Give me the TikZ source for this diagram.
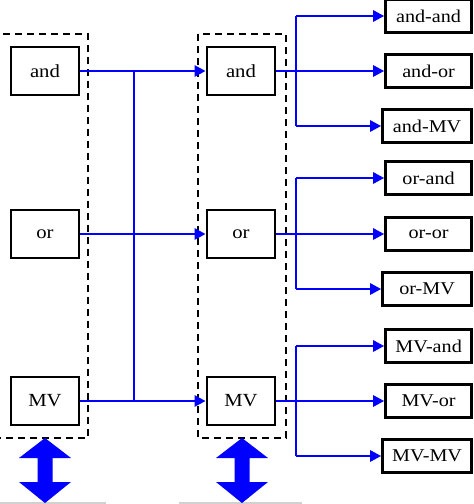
\documentclass[tikz,border=0pt]{standalone}
\usepackage{fontspec}
\setmainfont{Liberation Serif}[FakeStretch=1.12]
\usetikzlibrary{arrows.meta}
\definecolor{pblue}{RGB}{0,0,255}
\begin{document}
\begin{tikzpicture}[x=1pt,y=-1pt,
  box/.style={draw=black,line width=2.8pt,fill=white,minimum width=68pt,minimum height=48pt,inner sep=0pt,font=\fontsize{18.5}{20}\selectfont},
  rbox/.style={draw=black,line width=2.8pt,fill=white,minimum width=86pt,minimum height=33pt,inner sep=0pt,anchor=east,font=\fontsize{18}{20}\selectfont},
  group/.style={draw=black,line width=1.7pt,dash pattern=on 7pt off 5pt},
  conn/.style={draw=pblue,line width=2.6pt},
  arr/.style={conn,-{Triangle[length=11pt,width=11pt]}},
  bigarrow/.style={fill=pblue,draw=none},
  bar/.style={fill=black!18,draw=none}
]
\useasboundingbox (0,0) rectangle (474,504);
\begin{scope}
\clip (0,0) rectangle (474,504);
% dashed groups
\draw[group] (-10,34) rectangle (88,438);
\draw[group] (198,34) rectangle (286,438);

% left boxes
\node[box] (la) at (45,71) {and};
\node[box] (lo) at (45,234) {or};
\node[box] (lm) at (45,401) {MV};
% middle boxes
\node[box] (ma) at (241,71) {and};
\node[box] (mo) at (241,234) {or};
\node[box] (mm) at (241,401) {MV};

% right boxes
\node[rbox] (aa) at (473,16) {and-and};
\node[rbox] (ao) at (473,71) {and-or};
\node[rbox,minimum width=89pt] (am) at (473,126) {and-MV};
\node[rbox] (oa) at (473,178) {or-and};
\node[rbox] (oo) at (473,234) {or-or};
\node[rbox,minimum width=89pt] (om) at (473,289) {or-MV};
\node[rbox] (va) at (473,346) {MV-and};
\node[rbox] (vo) at (473,401) {MV-or};
\node[rbox,minimum width=89pt] (vm) at (473,456) {MV-MV};

% left to middle
\coordinate (jt) at (134,71);
\coordinate (jb) at (134,401);
\draw[conn] (jt) -- (jb);
\draw[arr] (la.east) -- (ma.west);
\draw[arr] (lo.east) -- (mo.west);
\draw[arr] (lm.east) -- (mm.west);

% middle to right
\coordinate (at) at (296,16);
\coordinate (ab) at (296,126);
\coordinate (ot) at (296,178);
\coordinate (ob) at (296,289);
\coordinate (vt) at (296,346);
\coordinate (vb) at (296,456);
\draw[conn] (at) -- (ab);
\draw[conn] (ot) -- (ob);
\draw[conn] (vt) -- (vb);
\draw[arr] (at) -- (aa.west);
\draw[arr] (ma.east) -- (ao.west);
\draw[arr] (ab) -- (am.west);
\draw[arr] (ot) -- (oa.west);
\draw[arr] (mo.east) -- (oo.west);
\draw[arr] (ob) -- (om.west);
\draw[arr] (vt) -- (va.west);
\draw[arr] (mm.east) -- (vo.west);
\draw[arr] (vb) -- (vm.west);

% bottom bars
\fill[bar] (0,502) rectangle (106,505);
\fill[bar] (179,502) rectangle (302,505);

% double arrows
\foreach \cx in {45,242}{
  \fill[bigarrow] (\cx,438) -- (\cx+26,458) -- (\cx+7.5,458) -- (\cx+7.5,482) -- (\cx+26,482)
    -- (\cx,503) -- (\cx-26,482) -- (\cx-7.5,482) -- (\cx-7.5,458) -- (\cx-26,458) -- cycle;
}
\end{scope}
\end{tikzpicture}
\end{document}
